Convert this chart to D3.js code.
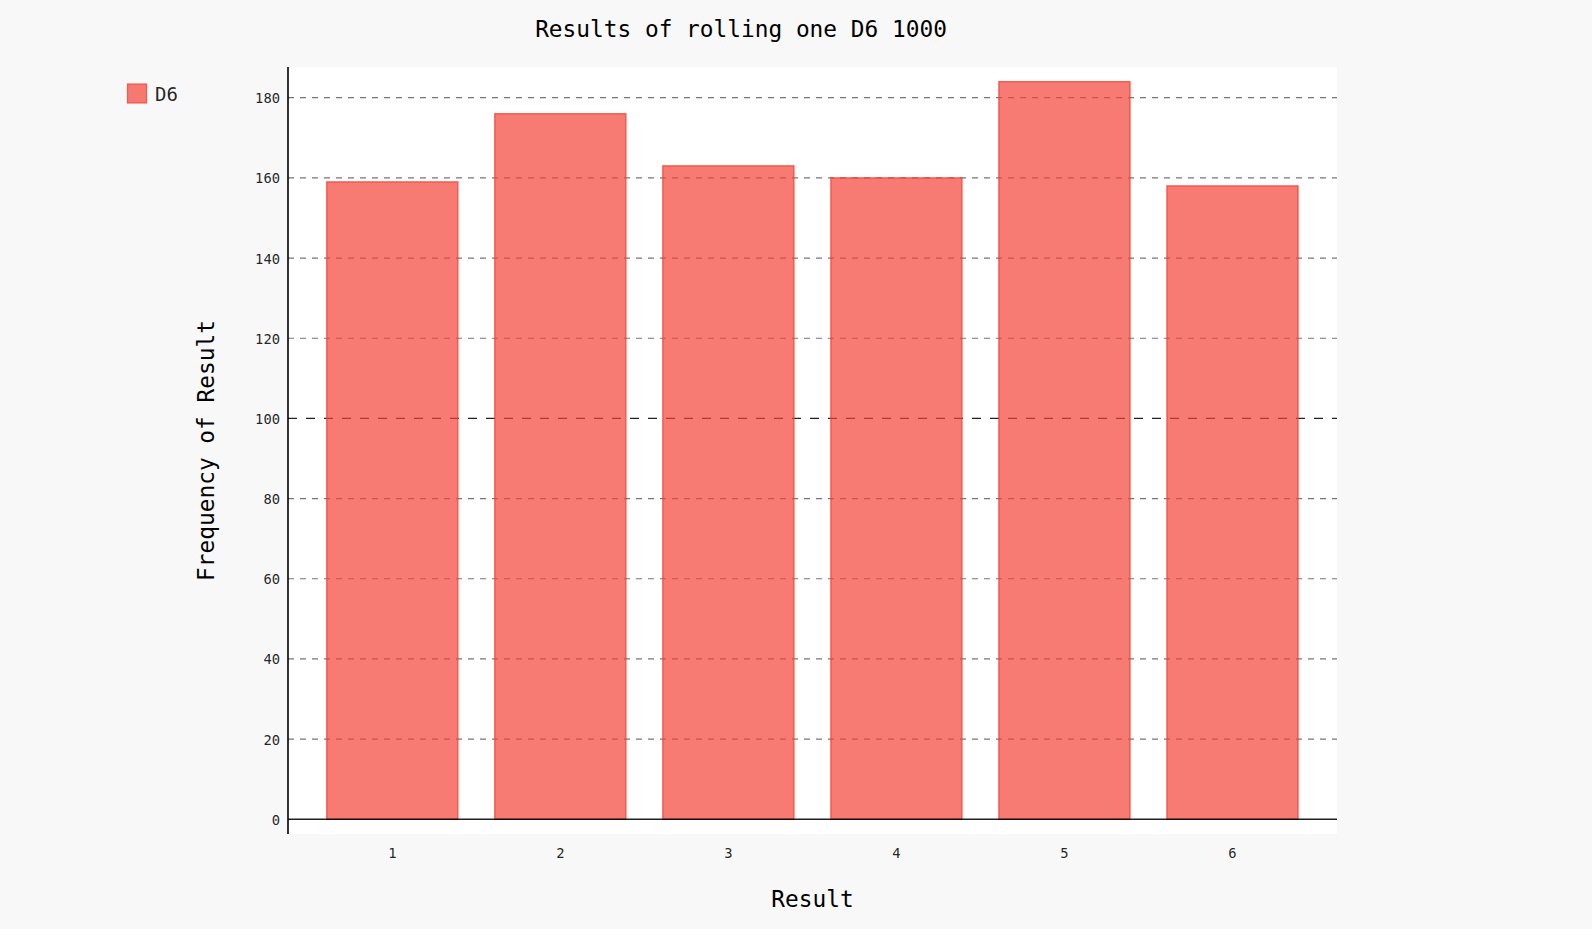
<!DOCTYPE html>
<html>
<head>
<meta charset="utf-8">
<script src="https://cdn.jsdelivr.net/npm/d3@7"></script>
<style>
  html, body { margin: 0; padding: 0; background: #f8f8f8; }
  svg { display: block; }
  text { font-family: "DejaVu Sans Mono", "Liberation Mono", monospace; }
</style>
</head>
<body>
<svg id="chart" width="1592" height="929"></svg>
<script>
const categories = ["1", "2", "3", "4", "5", "6"];
const seriesName = "D6";
const values = [159, 176, 163, 160, 184, 158];
const yTicks = [0, 20, 40, 60, 80, 100, 120, 140, 160, 180];
const majorTicks = [0, 100];
const titleText = "Results of rolling one D6 1000";
const xTitle = "Result";
const yTitle = "Frequency of Result";

const svg = d3.select("#chart");
const W = 1592, H = 929;
svg.append("rect").attr("width", W).attr("height", H).attr("fill", "#f8f8f8");

const plot = { left: 288, right: 1337, top: 67, bottom: 834 };

svg.append("rect")
  .attr("x", plot.left).attr("y", plot.top)
  .attr("width", plot.right - plot.left).attr("height", plot.bottom - plot.top)
  .attr("fill", "#ffffff");

const x = d3.scaleBand()
  .domain(categories)
  .range([308.3, 1316.5])
  .paddingInner(0.22)
  .paddingOuter(0.11);

const y = d3.scaleLinear().domain([0, 180]).range([819.3, 97.7]);

// grid lines
const grid = svg.append("g");
yTicks.forEach(t => {
  const major = majorTicks.includes(t);
  if (t === 0) return;
  grid.append("line")
    .attr("x1", plot.left).attr("x2", plot.right)
    .attr("y1", y(t)).attr("y2", y(t))
    .attr("stroke", major ? "rgba(0,0,0,0.87)" : "rgba(0,0,0,0.54)")
    .attr("stroke-width", 1.2)
    .attr("stroke-dasharray", major ? "9,9" : "6,6");
});

// bars
svg.append("g").selectAll("rect")
  .data(values)
  .join("rect")
  .attr("x", (d, i) => x(categories[i]))
  .attr("width", x.bandwidth())
  .attr("y", d => y(d))
  .attr("height", d => y(0) - y(d))
  .attr("fill", "#F44336")
  .attr("fill-opacity", 0.7)
  .attr("stroke", "#F44336")
  .attr("stroke-opacity", 0.8)
  .attr("stroke-width", 1.4);

// x baseline (0)
svg.append("line")
  .attr("x1", plot.left).attr("x2", plot.right)
  .attr("y1", y(0)).attr("y2", y(0))
  .attr("stroke", "rgba(0,0,0,0.87)").attr("stroke-width", 1.4);

// y axis line
svg.append("line")
  .attr("x1", plot.left).attr("x2", plot.left)
  .attr("y1", plot.top).attr("y2", plot.bottom)
  .attr("stroke", "#000").attr("stroke-width", 1.6);

// y tick labels
const yAxis = d3.axisLeft(y).tickValues(yTicks).tickSize(0).tickPadding(0);
const gy = svg.append("g").attr("transform", `translate(280,0)`).call(yAxis);
gy.select(".domain").remove();
gy.selectAll("text")
  .attr("font-family", '"DejaVu Sans Mono", monospace')
  .attr("font-size", "13.8px")
  .attr("fill", "rgba(0,0,0,0.87)")
  .attr("dy", "0.36em");

// x tick labels
const xAxis = d3.axisBottom(x).tickSize(0).tickPadding(0);
const gx = svg.append("g").attr("transform", `translate(0,848)`).call(xAxis);
gx.select(".domain").remove();
gx.selectAll("text")
  .attr("font-family", '"DejaVu Sans Mono", monospace')
  .attr("font-size", "13.8px")
  .attr("fill", "rgba(0,0,0,0.87)")
  .attr("dy", "0.71em");

// title
svg.append("text")
  .attr("x", 741).attr("y", 36.7)
  .attr("text-anchor", "middle")
  .attr("font-size", "22.8px")
  .attr("fill", "#000")
  .text(titleText);

// x title
svg.append("text")
  .attr("x", (plot.left + plot.right) / 2).attr("y", 906.7)
  .attr("text-anchor", "middle")
  .attr("font-size", "22.8px")
  .attr("fill", "#000")
  .text(xTitle);

// y title
svg.append("text")
  .attr("transform", `translate(213.5, ${(plot.top + plot.bottom) / 2}) rotate(-90)`)
  .attr("text-anchor", "middle")
  .attr("font-size", "22.8px")
  .attr("fill", "#000")
  .text(yTitle);

// legend
const lg = svg.append("g");
lg.append("rect")
  .attr("x", 127.5).attr("y", 84).attr("width", 19).attr("height", 19)
  .attr("fill", "#F44336").attr("fill-opacity", 0.7)
  .attr("stroke", "#F44336").attr("stroke-opacity", 0.8).attr("stroke-width", 1.2);
lg.append("text")
  .attr("x", 155).attr("y", 101)
  .attr("font-size", "19px")
  .attr("fill", "rgba(0,0,0,0.87)")
  .text(seriesName);
</script>
</body>
</html>
